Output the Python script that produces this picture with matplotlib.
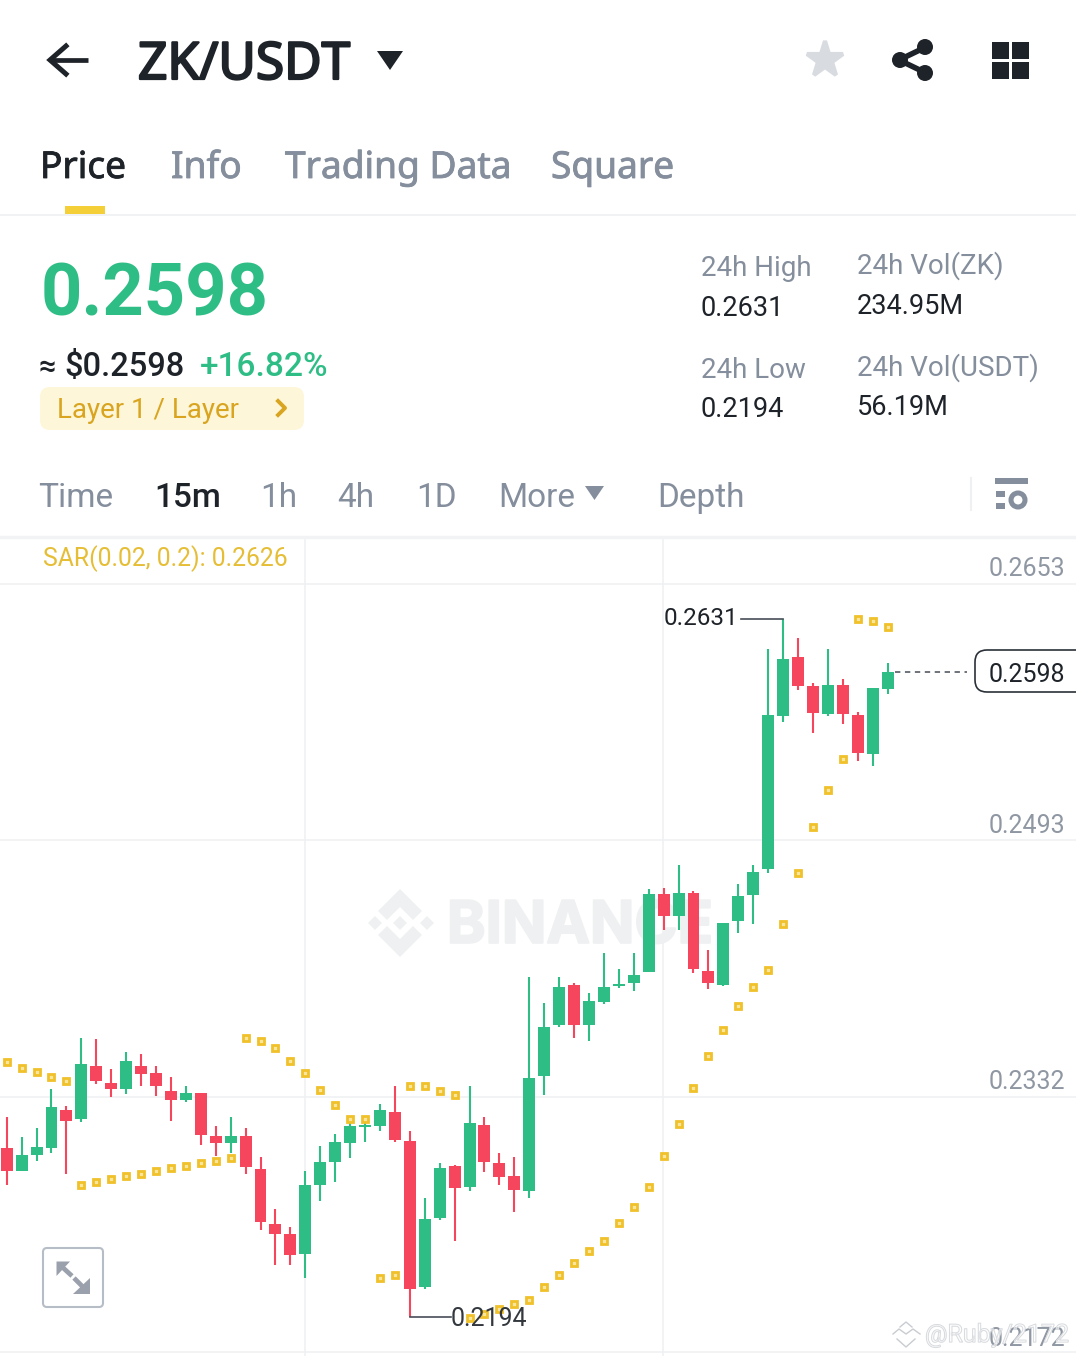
import matplotlib
matplotlib.use("Agg")
import matplotlib.pyplot as plt
from matplotlib.patches import FancyBboxPatch, Polygon, Rectangle, Circle
from matplotlib import patheffects as pe
import numpy as np

plt.rcParams['font.family'] = ['Roboto', 'DejaVu Sans']

# ---------- data ----------
open_ = [.23000,.22857,.22958,.23000,.23237,.23181,.23515,.23408,.23369,.23515,
         .23467,.23356,.23298,.23346,.23075,.23029,.23075,.22866,.22524,.22463,
         .22338,.22770,.22910,.23031,.23133,.23139,.23225,.23045,.22128,.22559,
         .22885,.22757,.23145,.22904,.22824,.22730,.23450,.23769,.24018,.23771,
         .23912,.24014,.24032,.24101,.24590,.24452,.24598,.24108,.24020,.24422,
         .24583,.24744,.25704,.26071,.25894,.25714,.25900,.25710,.25466,.25875]
close = [.22857,.22956,.23006,.23256,.23169,.23527,.23419,.23369,.23546,.23461,
         .23390,.23298,.23346,.23079,.23029,.23075,.22879,.22538,.22459,.22328,
         .22766,.22914,.23035,.23135,.23143,.23236,.23048,.22117,.22553,.22874,
         .22749,.23154,.22910,.22820,.22738,.23436,.23755,.24006,.23771,.23918,
         .24006,.24024,.24084,.24590,.24452,.24598,.24120,.24031,.24408,.24577,
         .24729,.25710,.26061,.25894,.25724,.25900,.25714,.25474,.25881,.25980]
high = [.23195,.23068,.23127,.23369,.23264,.23688,.23682,.23496,.23600,.23588,
        .23515,.23446,.23388,.23346,.23135,.23195,.23127,.22945,.22616,.22505,
        .22856,.23014,.23085,.23181,.23175,.23275,.23388,.23104,.22685,.22904,
        .22893,.23386,.23195,.22966,.22945,.24068,.23907,.24068,.24034,.23968,
        .24220,.24118,.24220,.24619,.24629,.24769,.24606,.24239,.24410,.24650,
        .24769,.26121,.26310,.26192,.25910,.26121,.25934,.25731,.25881,.26034]
low = [.22768,.22856,.22920,.22970,.22839,.23162,.23400,.23319,.23339,.23390,
       .23327,.23169,.23286,.23018,.22949,.22966,.22837,.22486,.22267,.22267,
       .22188,.22668,.22789,.22939,.23039,.23108,.23039,.21940,.22119,.22549,
       .22417,.22728,.22849,.22768,.22597,.22687,.23329,.23759,.23690,.23671,
       .23901,.24001,.23980,.24101,.24364,.24364,.24093,.23993,.24014,.24344,
       .24402,.24723,.25664,.25867,.25596,.25706,.25654,.25422,.25393,.25843]
sar = [.23536,.23502,.23473,.23446,.23417,.22766,.22785,.22804,.22822,.22839,
       .22856,.22872,.22889,.22906,.22920,.22937,.23690,.23671,.23626,.23544,
       .23467,.23364,.23271,.23183,.23179,.22186,.22206,.23390,.23390,.23358,
       .23331,.21933,.21962,.21992,.22021,.22048,.22128,.22204,.22281,.22353,
       .22419,.22528,.22632,.22757,.22949,.23150,.23375,.23575,.23738,.23888,
       .24009,.24114,.24400,.24721,.25009,.25242,.25437,.26313,.26297,.26261]
grid_prices = [0.2653, 0.2493, 0.2332, 0.2172]
grid_labels = ['0.2653', '0.2493', '0.2332', '0.2172']
last_price = 0.2598
high_mark = 0.2631
low_mark = 0.2194

GREEN = '#2EBD85'; RED = '#F6465D'; DARK = '#1E2329'; GREY = '#848E9C'; GRID = '#EFF1F3'
W, H = 1076, 1356
fig = plt.figure(figsize=(W/100, H/100), dpi=100, facecolor='white')

# ---------- chart axes: y pixels 538..1356 ----------
ax = fig.add_axes([0, 0, 1, (H-538)/H])
ax.set_xlim(-6.7/14.93, (W-6.7)/14.93)
ax.set_ylim(0.30186-1356*0.0000626, 0.30186-538*0.0000626)
ax.axis('off')
idx = np.arange(len(open_))
o, c, hi, lo = map(np.array, (open_, close, high, low))
cols = [GREEN if a >= b else RED for a, b in zip(c, o)]
for p in grid_prices:
    ax.axhline(p, color=GRID, lw=1.2, zorder=1)
for xv in [19.98, 43.98]:
    ax.axvline(xv, color=GRID, lw=1.2, zorder=1)
ax.text(38.4, 0.24378, 'BINANCE', fontsize=42, family='Inter', fontweight='bold', color='#EFF0F1',
        va='center', ha='center', zorder=1.5,
        path_effects=[pe.withStroke(linewidth=1.5, foreground='#EFF0F1')])
ax.vlines(idx, lo, hi, colors=cols, lw=1.5, zorder=3)
ax.bar(idx, np.maximum(np.abs(c-o), 0.00012), bottom=np.minimum(o, c), width=0.8, color=cols, zorder=4)
ax.plot(idx, sar, ls='none', marker='s', ms=4.4, mfc='#F8E6A0', mec='#F0C12A', mew=2, zorder=5)
# extreme markers and last price
ax.plot([49.2, 52], [high_mark, high_mark], color='#474D57', lw=1.2, zorder=6)
ax.text(49.03, high_mark+0.00005, '0.2631', ha='right', va='center', fontsize=17.5, color=DARK, zorder=7)
ax.plot([27, 29.75], [low_mark, low_mark], color='#474D57', lw=1.2, zorder=6)
ax.text(29.75, low_mark-0.0001, '0.2194', ha='left', va='center', fontsize=18, color='#33383F', zorder=7)
ax.plot([59.5, 64.3], [last_price, last_price], color='#474D57', lw=1.1, ls=(0, (3.5, 3)), zorder=6)

# ---------- overlay in pixel coordinates for the app interface ----------
ui = fig.add_axes([0, 0, 1, 1], facecolor='none')
ui.set_xlim(0, W); ui.set_ylim(H, 0); ui.axis('off')

def T(x, y, s, size, color=DARK, weight='normal', ha='left', va='baseline', **k):
    return ui.text(x, y, s, fontsize=size, color=color, fontweight=weight, ha=ha, va=va, **k)

def thick(color, lw):
    return [pe.withStroke(linewidth=lw, foreground=color)]

# y-axis labels
for lab, y in zip(grid_labels, [576, 833, 1089, 1346]):
    T(1065, y, lab, 18, '#8F97A3', ha='right')

# header
ui.plot([51, 88], [60, 60], color=DARK, lw=3.4, solid_capstyle='butt')
ui.plot([66, 50, 66], [46, 60, 74], color=DARK, lw=3.6, solid_joinstyle='miter')
T(138, 79, 'ZK/USDT', 37, DARK, family='Noto Sans', path_effects=thick(DARK, 1.6))
ui.add_patch(Polygon([[377, 51], [403, 51], [390, 70]], color=DARK, lw=0))
ui.plot([825], [60], marker='*', ms=27, mew=3, mfc='#D8DBE0', mec='#D8DBE0')
ui.plot([926, 899, 926], [47, 60, 73], color=DARK, lw=4)
for (cx, cy) in [(925, 47), (900, 60), (925, 73)]:
    ui.add_patch(Circle((cx, cy), 8, color=DARK, lw=0))
for (rx, ry) in [(992, 42), (1012, 42), (992, 62), (1012, 62)]:
    ui.add_patch(Rectangle((rx, ry), 17, 16.5, color=DARK, lw=0))

# tabs
T(40, 178, 'Price', 26.7, DARK, family='Noto Sans', path_effects=thick(DARK, 0.6))
T(171, 178, 'Info', 26.7, GREY, family='Noto Sans', path_effects=thick(GREY, 0.6))
T(285, 178, 'Trading Data', 26.7, GREY, family='Noto Sans', path_effects=thick(GREY, 0.6))
T(551, 178, 'Square', 26.7, GREY, family='Noto Sans', path_effects=thick(GREY, 0.6))
ui.add_patch(Rectangle((65, 206), 40, 8, color='#F5CF38', lw=0))
ui.plot([0, W], [214.5, 214.5], color='#EEF0F2', lw=1.2)

# price block
T(41, 315, '0.2598', 52, GREEN, 'bold')
T(39, 376, '≈', 22, DARK, 'medium')
T(64, 376, '$0.2598', 23.5, DARK, 'medium')
T(200, 376, '+16.82%', 24, GREEN, 'medium')
ui.add_patch(FancyBboxPatch((48, 395), 248, 27, boxstyle='round,pad=8,rounding_size=10', fc='#FEF6D8', ec='none'))
T(57, 418, 'Layer 1 / Layer', 20, '#D9A520')
ui.plot([278, 285, 278], [401, 408, 415], color='#D9A520', lw=2.8)

# stats
T(701, 276, '24h High', 20, GREY)
T(701, 316, '0.2631', 19.5, DARK)
T(857, 274, '24h Vol(ZK)', 20, GREY)
T(857, 314, '234.95M', 19.5, DARK)
T(701, 378, '24h Low', 20, GREY)
T(701, 417, '0.2194', 19.5, DARK)
T(857, 376, '24h Vol(USDT)', 20, GREY)
T(857, 415, '56.19M', 19.5, DARK)

# interval row
for x, s in [(38, 'Time'), (260, '1h'), (337, '4h'), (416, '1D'), (498, 'More'), (657, 'Depth')]:
    T(x, 507, s, 24, GREY)
T(154, 507, '15m', 24, DARK, 'medium')
ui.add_patch(Polygon([[585, 486], [604, 486], [594.5, 500]], color=GREY, lw=0))
ui.plot([971, 971], [478, 510], color='#EEF0F2', lw=1.5)
ui.add_patch(Rectangle((995, 478), 33, 5.5, color=GREY, lw=0))
ui.add_patch(Rectangle((996, 491), 9, 5.5, color=GREY, lw=0))
ui.add_patch(Rectangle((996, 503), 9, 5.5, color=GREY, lw=0))
ui.add_patch(Circle((1018, 500), 7, fc='white', ec=GREY, lw=3.6))
ui.plot([0, W], [537, 537], color='#F2F3F5', lw=2.5)

# legend
T(43, 566, 'SAR(0.02, 0.2): 0.2626', 17.8, '#E6BE36')

# last price tag
ui.add_patch(FancyBboxPatch((987, 662), 110, 18, boxstyle='round,pad=12,rounding_size=12', fc='white', ec='#2B3139', lw=1.2, zorder=8))
T(1027, 682, '0.2598', 18, DARK, ha='center', zorder=9)

# watermark logo
WM = '#EEF0F1'
for (cx, cy) in [(375, 923), (400, 923), (427, 923)]:
    ui.add_patch(Polygon([[cx, cy-7], [cx+7, cy], [cx, cy+7], [cx-7, cy]], color=WM, lw=0, zorder=0.5))
ui.add_patch(Polygon([[400, 889], [422, 911], [413, 920], [400, 907], [387, 920], [378, 911]], color=WM, lw=0, zorder=0.5))
ui.add_patch(Polygon([[400, 957], [422, 935], [413, 926], [400, 939], [387, 926], [378, 935]], color=WM, lw=0, zorder=0.5))

# expand button
ui.add_patch(FancyBboxPatch((46, 1251), 54, 53, boxstyle='round,pad=3,rounding_size=4', fc='white', ec='#B7BDC6', lw=1.5))
ui.add_patch(Polygon([[56.5, 1261.5], [70, 1261.5], [56.5, 1276]], color='#9AA1AC', lw=0))
ui.add_patch(Polygon([[89.5, 1278], [89.5, 1294], [73, 1294]], color='#9AA1AC', lw=0))
ui.plot([60, 72], [1265, 1276], color='#9AA1AC', lw=3.4, solid_capstyle='butt')
ui.plot([74, 86], [1278, 1290], color='#9AA1AC', lw=3.4, solid_capstyle='butt')

# bottom-right credit
T(925, 1342, '@Ruby/2172', 18, (1, 1, 1, 0.35), zorder=10,
  path_effects=[pe.withStroke(linewidth=0.8, foreground='#D3D6DA')])
ui.plot([893, 899, 906, 913, 920], [1334, 1329, 1334, 1329, 1334], color='#C9CCD0', lw=1)
ui.plot([897, 906, 915], [1339, 1347, 1339], color='#C9CCD0', lw=1)
ui.plot([900, 906, 912], [1327, 1322, 1327], color='#C9CCD0', lw=1)

fig.savefig('out.png', dpi=100, facecolor='white')
